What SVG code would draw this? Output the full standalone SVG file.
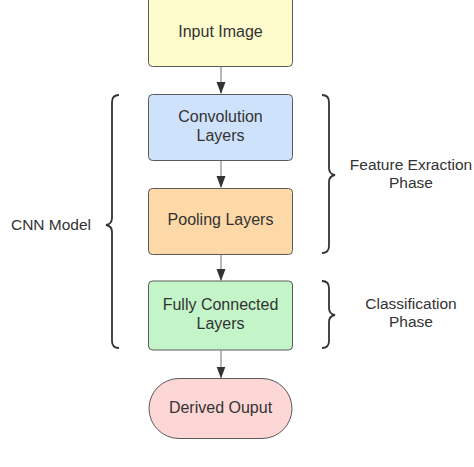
<svg xmlns="http://www.w3.org/2000/svg" width="474" height="467" viewBox="0 0 474 467">
<defs>
<style>
.box{stroke:#5a5a5a;stroke-width:1}
.t{font-family:"Liberation Sans",Arial,sans-serif;font-size:16px;fill:#333;text-anchor:middle}
.lbl{font-family:"Liberation Sans",Arial,sans-serif;font-size:15.5px;fill:#333;text-anchor:middle}
.edge{stroke:#888;stroke-width:1.2;fill:none}
.brace{stroke:#333;stroke-width:1.8;fill:none}
</style>
<marker id="ah" markerWidth="12" markerHeight="10" refX="11" refY="5" orient="auto" markerUnits="userSpaceOnUse" viewBox="0 0 12 10">
<path d="M0,0.5 L12,5 L0,9.5 Z" fill="#333"/>
</marker>
</defs>
<rect width="474" height="467" fill="#fff"/>
<g id="input-image">
<rect class="box" x="148.5" y="-4" width="144" height="70.5" rx="4" fill="#fefccc"/>
<text class="t" x="220.5" y="37">Input Image</text>
</g>
<g id="convolution-layers">
<rect class="box" x="148.5" y="94.5" width="144" height="66" rx="4" fill="#cfe2fb"/>
<text class="t" x="220.5" y="122">Convolution</text>
<text class="t" x="220.5" y="141">Layers</text>
</g>
<g id="pooling-layers">
<rect class="box" x="148.5" y="188.5" width="144" height="66" rx="4" fill="#fdd9a8"/>
<text class="t" x="220.5" y="225">Pooling Layers</text>
</g>
<g id="fully-connected-layers">
<rect class="box" x="148.5" y="281" width="144" height="69" rx="4" fill="#c3f5c8"/>
<text class="t" x="220.5" y="310">Fully Connected</text>
<text class="t" x="220.5" y="329">Layers</text>
</g>
<g id="derived-output">
<rect class="box" x="149" y="378.5" width="143" height="60" rx="30" fill="#fdd6d6"/>
<text class="t" x="220.5" y="413">Derived Ouput</text>
</g>
<g id="connectors">
<line class="edge" x1="221" y1="67" x2="221" y2="93" marker-end="url(#ah)"/>
<line class="edge" x1="221" y1="161" x2="221" y2="187" marker-end="url(#ah)"/>
<line class="edge" x1="221" y1="255" x2="221" y2="280" marker-end="url(#ah)"/>
<line class="edge" x1="221" y1="350.5" x2="221" y2="377.5" marker-end="url(#ah)"/>
</g>
<g id="cnn-model">
<path class="brace" d="M119,95 Q112,95 112,102 L112,218 Q112,224 106,225 Q112,226 112,232 L112,341 Q112,348 119,348"/>
<text class="lbl" x="51" y="230">CNN Model</text>
</g>
<g id="feature-extraction-phase">
<path class="brace" d="M322,95 Q329,95 329,102 L329,168 Q329,174 335,175 Q329,176 329,182 L329,246 Q329,253 322,253"/>
<text class="lbl" x="411" y="170">Feature Exraction</text>
<text class="lbl" x="411" y="188">Phase</text>
</g>
<g id="classification-phase">
<path class="brace" d="M322,281 Q329,281 329,288 L329,308 Q329,314 335,315 Q329,316 329,322 L329,341 Q329,348 322,348"/>
<text class="lbl" x="411" y="309">Classification</text>
<text class="lbl" x="411" y="327">Phase</text>
</g>
</svg>
